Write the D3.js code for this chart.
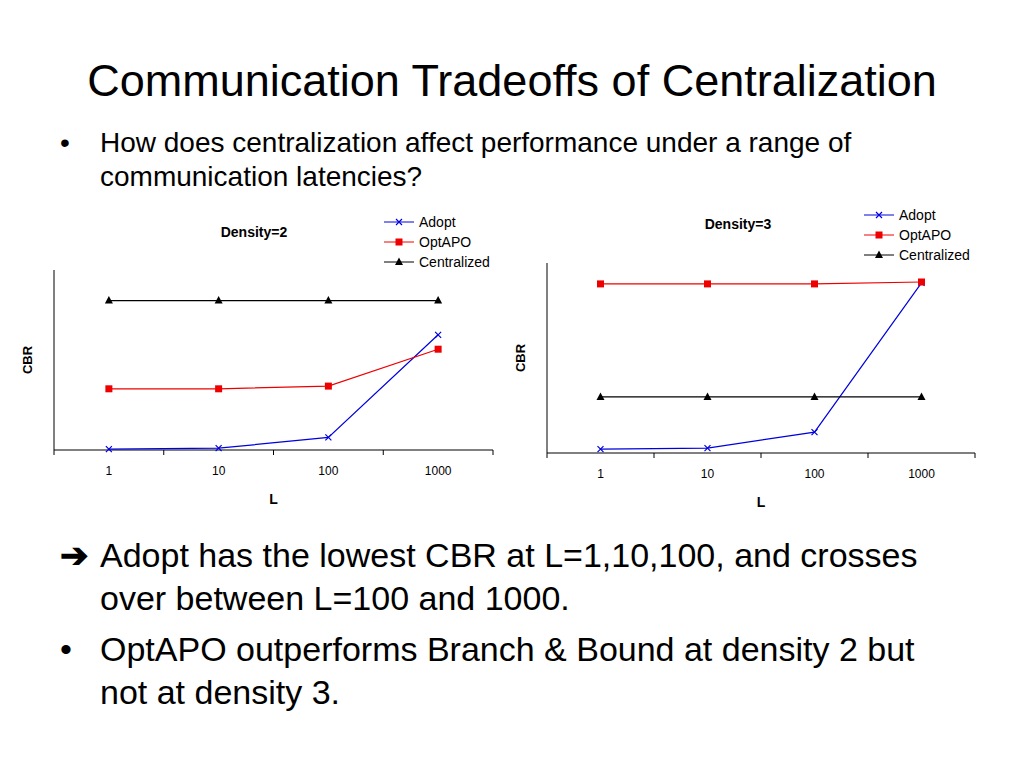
<!DOCTYPE html>
<html><head><meta charset="utf-8">
<script src="https://cdn.jsdelivr.net/npm/d3@7"></script>
<style>body{margin:0;background:#fff}svg{font-family:"Liberation Sans",Arial,sans-serif}</style>
</head><body>
<svg id="s" width="1024" height="768"></svg>
<script>
const categories = ["1", "10", "100", "1000"];
const seriesNames = ["Adopt", "OptAPO", "Centralized"];
const d2Adopt = [0.5, 1, 7, 64];
const d2OptAPO = [34, 34, 35.5, 56];
const d2Central = [83, 83, 83, 83];
const d3Adopt = [2, 2.6, 11, 89.5];
const d3OptAPO = [89, 89, 89, 90];
const d3Central = [29.5, 29.5, 29.5, 29.5];

const svg = d3.select('#s');
const colors = {Adopt: '#0000dd', OptAPO: '#ee0000', Centralized: '#000'};

svg.append('text').attr('x', 512).attr('y', 96).attr('text-anchor', 'middle')
  .attr('font-size', 45).text('Communication Tradeoffs of Centralization');

function line(x, y, txt, size, bullet, bw) {
  if (bullet) svg.append('text').attr('x', 60).attr('y', y).attr('font-size', size)
    .attr('font-weight', bw ? 'bold' : 'normal').text(bullet);
  svg.append('text').attr('x', x).attr('y', y).attr('font-size', size).text(txt);
}
line(100, 152, 'How does centralization affect performance under a range of', 28, '•');
line(100, 186, 'communication latencies?', 28);
line(100, 567, 'Adopt has the lowest CBR at L=1,10,100, and crosses', 34, '➔', true);
line(100, 610, 'over between L=100 and 1000.', 34);
line(100, 661, 'OptAPO outperforms Branch & Bound at density 2 but', 34, '•');
line(100, 704, 'not at density 3.', 34);

function chart(o) {
  const g = svg.append('g');
  const x = d3.scaleBand(categories, [o.left, o.right]);
  const y = d3.scaleLinear([0, 100], [o.bottom, o.top]);
  g.append('line').attr('x1', o.left).attr('x2', o.left).attr('y1', o.top).attr('y2', o.bottom).attr('stroke', '#000');
  const ax = g.append('g').attr('transform', `translate(0,${o.bottom})`)
    .call(d3.axisBottom(x).tickSize(0).tickPadding(16));
  ax.select('.domain').attr('d', `M${o.left},0H${o.right}`);
  ax.selectAll('text').attr('font-size', 12).attr('font-family', 'Liberation Sans, Arial');
  d3.range(categories.length + 1).forEach(i => {
    const xx = o.left + i * x.step();
    g.append('line').attr('x1', xx).attr('x2', xx).attr('y1', o.bottom).attr('y2', o.bottom + 5).attr('stroke', '#000');
  });
  const cx = c => x(c) + x.bandwidth() / 2;
  const series = [['Adopt', o.adopt], ['OptAPO', o.opt], ['Centralized', o.cen]];
  series.forEach(([n, vals]) => {
    g.append('path').attr('fill', 'none').attr('stroke', colors[n]).attr('stroke-width', 1.2)
      .attr('d', d3.line().x((v, i) => cx(categories[i])).y(v => y(v))(vals));
    vals.forEach((v, i) => marker(g, n, cx(categories[i]), y(v)));
  });
  g.append('text').attr('x', o.titleX).attr('y', o.titleY).attr('text-anchor', 'middle')
    .attr('font-size', 14).attr('font-weight', 'bold').text(o.title);
  g.append('text').attr('transform', `translate(${o.left - 22},${(o.top + o.bottom) / 2}) rotate(-90)`)
    .attr('text-anchor', 'middle').attr('font-size', 13).attr('font-weight', 'bold').text('CBR');
  g.append('text').attr('x', (o.left + o.right) / 2).attr('y', o.bottom + 54).attr('text-anchor', 'middle')
    .attr('font-size', 14).attr('font-weight', 'bold').text('L');
  seriesNames.forEach((n, i) => {
    const ly = o.legY + i * 20;
    g.append('line').attr('x1', o.legX).attr('x2', o.legX + 30).attr('y1', ly).attr('y2', ly).attr('stroke', colors[n]);
    marker(g, n, o.legX + 15, ly);
    g.append('text').attr('x', o.legX + 35).attr('y', ly + 5).attr('font-size', 14).text(n);
  });
}
function marker(g, n, px, py) {
  if (n === 'Adopt') {
    g.append('path').attr('d', `M${px-3},${py-3}L${px+3},${py+3}M${px-3},${py+3}L${px+3},${py-3}`)
      .attr('stroke', colors[n]).attr('stroke-width', 1.2);
  } else if (n === 'OptAPO') {
    g.append('rect').attr('x', px - 3.5).attr('y', py - 3.5).attr('width', 7).attr('height', 7).attr('fill', colors[n]);
  } else {
    g.append('path').attr('d', `M${px},${py-4.5}L${px+4},${py+3}L${px-4},${py+3}Z`).attr('fill', '#000');
  }
}
chart({left: 54, right: 493, top: 270, bottom: 450, adopt: d2Adopt, opt: d2OptAPO, cen: d2Central,
  title: 'Density=2', titleX: 254, titleY: 237, legX: 384, legY: 222});
chart({left: 547, right: 975, top: 263, bottom: 453, adopt: d3Adopt, opt: d3OptAPO, cen: d3Central,
  title: 'Density=3', titleX: 738, titleY: 229, legX: 864, legY: 215});
</script>
</body></html>
